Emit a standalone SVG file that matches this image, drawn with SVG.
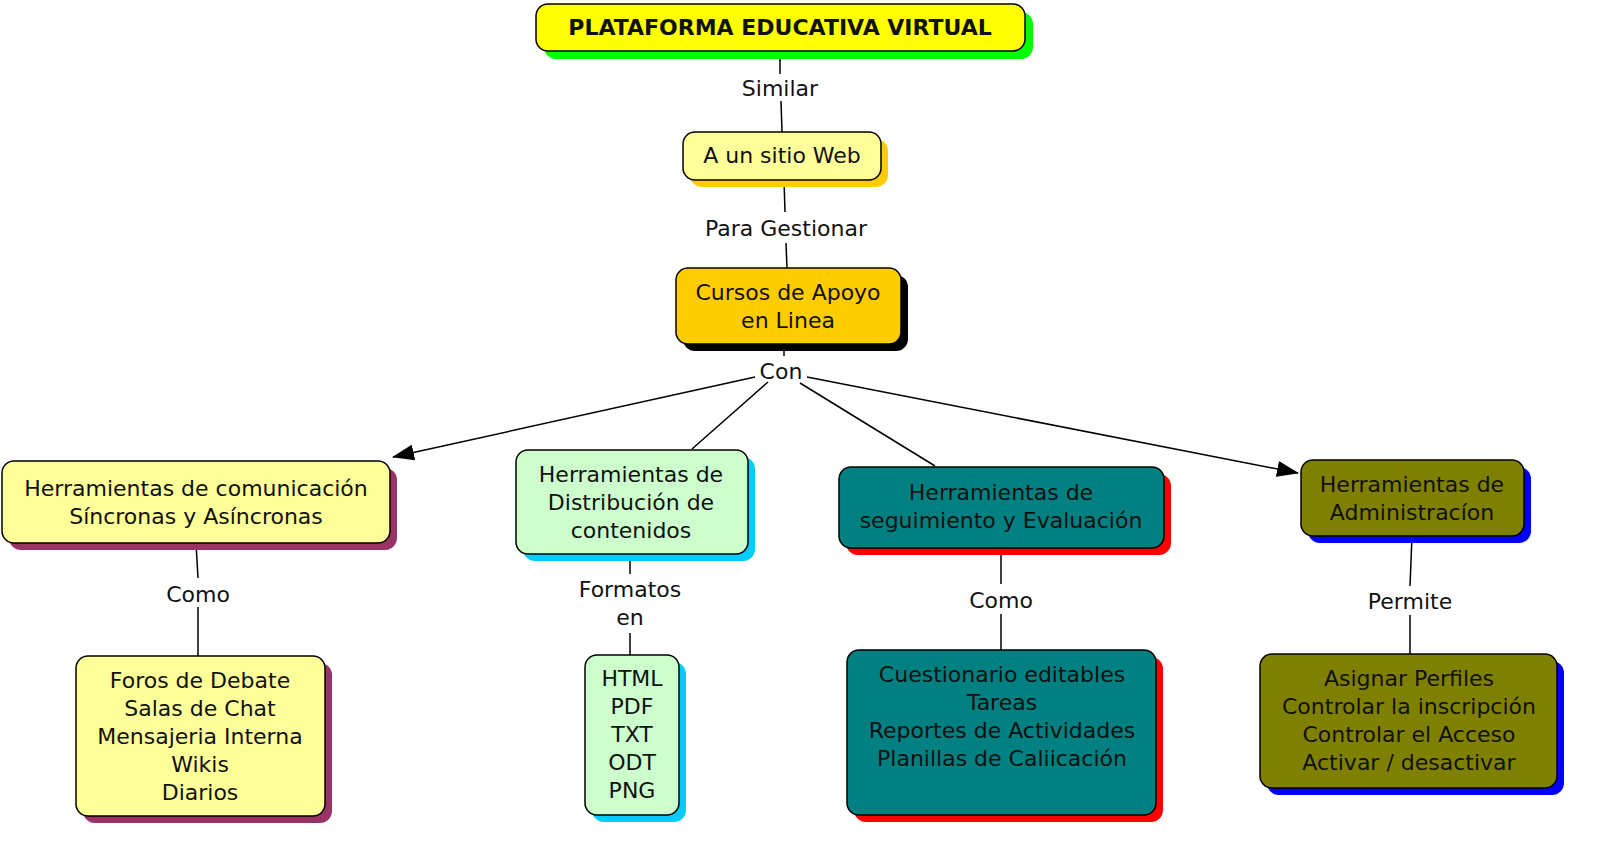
<svg xmlns="http://www.w3.org/2000/svg" width="1600" height="844" viewBox="0 0 1600 844">
<style>
text{font-family:"DejaVu Sans",Verdana,sans-serif;font-size:22px;fill:#111;text-anchor:middle}
.n{stroke:#000;stroke-width:1.5}
.l{stroke:#000;stroke-width:1.5;fill:none}
</style>
<defs><marker id="a" markerWidth="22" markerHeight="16" refX="21" refY="8" orient="auto" markerUnits="userSpaceOnUse"><path d="M0,0L22,8L0,16z" fill="#000"/></marker></defs>
<rect width="1600" height="844" fill="#fff"/>
<g id="connectors">
<path class="l" d="M780,51V74M781,101L782,132M784,180L785,212M786,243L787,268M784,344V356"/>
<path class="l" d="M755,377L393,457" marker-end="url(#a)"/>
<path class="l" d="M768,382L692,449M800,383L935,466"/>
<path class="l" d="M807,377L1298,473" marker-end="url(#a)"/>
<path class="l" d="M196,543L198,578M198,607V656M630,554V574M630,633V655M1001,548V584M1001,614V650M1412,536L1410,586M1410,615V654"/>
<text x="780" y="96">Similar</text>
<text x="786" y="236">Para Gestionar</text>
<text x="781" y="379">Con</text>
<text x="198" y="602">Como</text>
<text x="630" y="597">Formatos</text><text x="630" y="625">en</text>
<text x="1001" y="608">Como</text>
<text x="1410" y="609">Permite</text>
</g>
<g id="n1"><rect x="544" y="12" width="489" height="47" rx="12" fill="#00ff00"/><rect class="n" x="536" y="4" width="489" height="47" rx="12" fill="#ffff00"/><text x="780" y="35" font-weight="bold">PLATAFORMA EDUCATIVA VIRTUAL</text></g>
<g id="n2"><rect x="690" y="139" width="198" height="48" rx="12" fill="#ffcc00"/><rect class="n" x="683" y="132" width="198" height="48" rx="12" fill="#ffff99"/><text x="782" y="163">A un sitio Web</text></g>
<g id="n3"><rect x="683" y="275" width="225" height="76" rx="12" fill="#000"/><rect class="n" x="676" y="268" width="225" height="76" rx="12" fill="#ffcc00"/><text x="788" y="300">Cursos de Apoyo</text><text x="788" y="328">en Linea</text></g>
<g id="n4"><rect x="9" y="468" width="388" height="82" rx="12" fill="#993366"/><rect class="n" x="2" y="461" width="388" height="82" rx="12" fill="#ffff99"/><text x="196" y="496">Herramientas de comunicación</text><text x="196" y="524">Síncronas y Asíncronas</text></g>
<g id="n5"><rect x="523" y="457" width="232" height="104" rx="12" fill="#00ccff"/><rect class="n" x="516" y="450" width="232" height="104" rx="12" fill="#ccffcc"/><text x="631" y="482">Herramientas de</text><text x="631" y="510">Distribución de</text><text x="631" y="538">contenidos</text></g>
<g id="n6"><rect x="846" y="474" width="325" height="81" rx="12" fill="#ff0000"/><rect class="n" x="839" y="467" width="325" height="81" rx="12" fill="#008080"/><text x="1001" y="500">Herramientas de</text><text x="1001" y="528">seguimiento y Evaluación</text></g>
<g id="n7"><rect x="1308" y="467" width="223" height="76" rx="12" fill="#0000ff"/><rect class="n" x="1301" y="460" width="223" height="76" rx="12" fill="#808000"/><text x="1412" y="492">Herramientas de</text><text x="1412" y="520">Administracíon</text></g>
<g id="n8"><rect x="83" y="663" width="249" height="160" rx="12" fill="#993366"/><rect class="n" x="76" y="656" width="249" height="160" rx="12" fill="#ffff99"/><text x="200" y="688">Foros de Debate</text><text x="200" y="716">Salas de Chat</text><text x="200" y="744">Mensajeria Interna</text><text x="200" y="772">Wikis</text><text x="200" y="800">Diarios</text></g>
<g id="n9"><rect x="592" y="662" width="94" height="160" rx="12" fill="#00ccff"/><rect class="n" x="585" y="655" width="94" height="160" rx="12" fill="#ccffcc"/><text x="632" y="686">HTML</text><text x="632" y="714">PDF</text><text x="632" y="742">TXT</text><text x="632" y="770">ODT</text><text x="632" y="798">PNG</text></g>
<g id="n10"><rect x="854" y="657" width="309" height="165" rx="12" fill="#ff0000"/><rect class="n" x="847" y="650" width="309" height="165" rx="12" fill="#008080"/><text x="1002" y="682">Cuestionario editables</text><text x="1002" y="710">Tareas</text><text x="1002" y="738">Reportes de Actividades</text><text x="1002" y="766">Planillas de Caliicación</text></g>
<g id="n11"><rect x="1267" y="661" width="297" height="134" rx="12" fill="#0000ff"/><rect class="n" x="1260" y="654" width="297" height="134" rx="12" fill="#808000"/><text x="1409" y="686">Asignar Perfiles</text><text x="1409" y="714">Controlar la inscripción</text><text x="1409" y="742">Controlar el Acceso</text><text x="1409" y="770">Activar / desactivar</text></g>
</svg>
